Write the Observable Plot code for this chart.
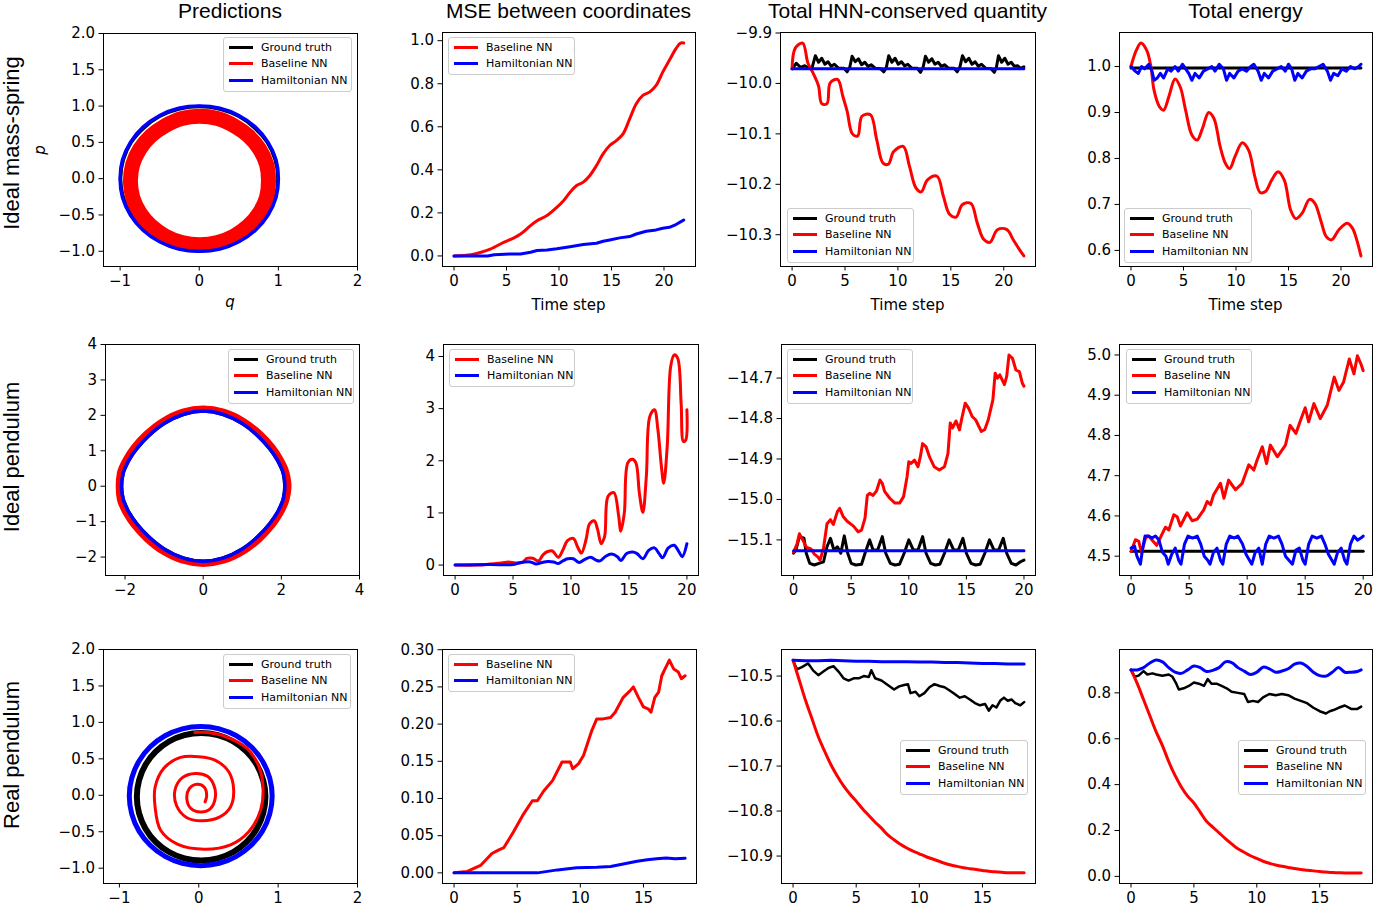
<!DOCTYPE html>
<html><head><meta charset="utf-8">
<script src="https://cdn.jsdelivr.net/npm/d3@7"></script>
<script src="https://cdn.jsdelivr.net/npm/@observablehq/plot@0.6"></script>
<style>
body{margin:0;background:#fff;}
#root{position:relative;width:1376px;height:910px;overflow:hidden;background:#fff;}
.abs{position:absolute;}
.abs svg{max-width:none !important;}
.title{position:absolute;font-family:"Liberation Sans",Arial,sans-serif;font-size:21px;color:#000;white-space:nowrap;transform:translateX(-50%);line-height:1;}
.rowlab{position:absolute;font-family:"Liberation Sans",Arial,sans-serif;font-size:22px;color:#000;white-space:nowrap;transform:translate(-50%,-50%) rotate(-90deg);line-height:1;}
.axlab{position:absolute;font-family:"DejaVu Sans",sans-serif;font-size:15px;color:#000;white-space:nowrap;transform:translate(-50%,-50%);line-height:1;}
.legend{position:absolute;box-sizing:border-box;border:1px solid #cccccc;border-radius:3px;background:rgba(255,255,255,0.85);padding:1px 0 2px 5px;font-family:"DejaVu Sans",sans-serif;font-size:11px;color:#000;}
.legend .row{display:flex;align-items:center;height:16.6px;white-space:nowrap;}
.legend .sw{display:inline-block;width:24px;height:3px;margin-right:8px;}
</style></head><body><div id="root"></div>
<script>
// ---------- tick labels ----------
const ticksQ1 = [-1, 0, 1, 2];
const ticksP1 = [-1.0, -0.5, 0.0, 0.5, 1.0, 1.5, 2.0];
const ticksQ2 = [-2, 0, 2, 4];
const ticksP2 = [-2, -1, 0, 1, 2, 3, 4];
const ticksT20 = [0, 5, 10, 15, 20];
const ticksT15 = [0, 5, 10, 15];
const ticksMseMs = [0.0, 0.2, 0.4, 0.6, 0.8, 1.0];
const ticksConsMs = [-10.3, -10.2, -10.1, -10.0, -9.9];
const ticksEnergyMs = [0.6, 0.7, 0.8, 0.9, 1.0];
const ticksMseIp = [0, 1, 2, 3, 4];
const ticksConsIp = [-15.1, -15.0, -14.9, -14.8, -14.7];
const ticksEnergyIp = [4.5, 4.6, 4.7, 4.8, 4.9, 5.0];
const ticksMseRp = [0.00, 0.05, 0.10, 0.15, 0.20, 0.25, 0.30];
const ticksConsRp = [-10.9, -10.8, -10.7, -10.6, -10.5];
const ticksEnergyRp = [0.0, 0.2, 0.4, 0.6, 0.8];

// ---------- categories ----------
const columnTitles = ["Predictions", "MSE between coordinates", "Total HNN-conserved quantity", "Total energy"];
const rowTitles = ["Ideal mass-spring", "Ideal pendulum", "Real pendulum"];
const seriesNames = ["Ground truth", "Baseline NN", "Hamiltonian NN"];

// ---------- Row 1: ideal mass-spring ----------
const msPhaseTruthQ = [0, 0.26, 0.5, 0.7, 0.86, 0.96, 0.995, 0.96, 0.86, 0.7, 0.5, 0.26, 0, -0.26, -0.5, -0.7, -0.86, -0.96, -0.995, -0.96, -0.86, -0.7, -0.5, -0.26];
const msPhaseTruthP = [0.995, 0.96, 0.86, 0.7, 0.5, 0.26, 0, -0.26, -0.5, -0.7, -0.86, -0.96, -0.995, -0.96, -0.86, -0.7, -0.5, -0.26, 0, 0.26, 0.5, 0.7, 0.86, 0.96];
const msPhaseBaseQ = [0, 0.23, 0.44, 0.62, 0.76, 0.85, 0.875, 0.85, 0.76, 0.62, 0.44, 0.23, 0.01, -0.22, -0.43, -0.61, -0.75, -0.84, -0.87, -0.84, -0.75, -0.61, -0.43, -0.22];
const msPhaseBaseP = [0.86, 0.83, 0.73, 0.59, 0.41, 0.2, -0.03, -0.26, -0.47, -0.65, -0.79, -0.88, -0.91, -0.88, -0.79, -0.65, -0.47, -0.26, -0.03, 0.2, 0.41, 0.59, 0.73, 0.83];
const msPhaseHnnQ = [0, 0.26, 0.5, 0.71, 0.87, 0.97, 1.0, 0.97, 0.87, 0.71, 0.5, 0.26, 0, -0.26, -0.5, -0.71, -0.87, -0.97, -1.0, -0.97, -0.87, -0.71, -0.5, -0.26];
const msPhaseHnnP = [1.0, 0.97, 0.87, 0.71, 0.5, 0.26, 0, -0.26, -0.5, -0.71, -0.87, -0.97, -1.0, -0.97, -0.87, -0.71, -0.5, -0.26, 0, 0.26, 0.5, 0.71, 0.87, 0.97];

const msMseBaseT = [0, 1.63, 2.58, 3.51, 4.78, 5.71, 6.34, 7.29, 7.91, 8.86, 9.79, 10.43, 11.06, 11.68, 12.31, 12.94, 13.57, 14.2, 14.83, 15.46, 16.1, 16.73, 17.36, 17.99, 18.62, 19.25, 19.88, 20.51, 21.14, 21.57, 21.88];
const msMseBaseV = [0, 0.006, 0.017, 0.033, 0.064, 0.084, 0.102, 0.141, 0.164, 0.188, 0.226, 0.257, 0.296, 0.327, 0.343, 0.374, 0.42, 0.474, 0.513, 0.536, 0.567, 0.637, 0.707, 0.746, 0.761, 0.792, 0.854, 0.909, 0.963, 0.989, 0.989];
const msMseHnnT = [0, 3.2, 3.83, 5.4, 6.34, 7.29, 7.91, 8.86, 9.79, 11.05, 12.31, 13.57, 14.2, 14.83, 15.78, 16.73, 17.36, 18.3, 19.25, 19.88, 20.51, 21.14, 21.78, 21.88];
const msMseHnnV = [0, 0, 0.006, 0.009, 0.009, 0.017, 0.025, 0.028, 0.033, 0.043, 0.053, 0.059, 0.068, 0.074, 0.084, 0.09, 0.102, 0.115, 0.121, 0.129, 0.133, 0.146, 0.164, 0.167];

const msConsTruthT = [0, 0.4, 0.8, 1.2, 1.6, 1.9,
  2.2, 2.5, 2.8, 3.1, 3.4, 3.7, 4.0, 4.4, 4.9, 5.2, 5.45,
  5.67, 5.97, 6.27, 6.57, 6.87, 7.17, 7.47, 7.87, 8.37, 8.67, 8.9,
  9.13, 9.43, 9.73, 10.03, 10.33, 10.63, 10.93, 11.33, 11.83, 12.13, 12.38,
  12.6, 12.9, 13.2, 13.5, 13.8, 14.1, 14.4, 14.8, 15.3, 15.6, 15.85,
  16.1, 16.4, 16.7, 17.0, 17.3, 17.6, 17.9, 18.3, 18.8, 19.1, 19.3,
  19.5, 19.8, 20.1, 20.4, 20.7, 21.0, 21.3, 21.6, 21.9];
const msConsTruthV = [-9.971, -9.960, -9.968, -9.965, -9.970, -9.968,
  -9.945, -9.958, -9.950, -9.962, -9.957, -9.966, -9.962, -9.970, -9.970, -9.977, -9.968,
  -9.946, -9.957, -9.951, -9.963, -9.958, -9.966, -9.963, -9.970, -9.971, -9.977, -9.969,
  -9.945, -9.958, -9.950, -9.962, -9.957, -9.965, -9.962, -9.970, -9.970, -9.978, -9.968,
  -9.946, -9.958, -9.951, -9.962, -9.958, -9.966, -9.963, -9.970, -9.970, -9.977, -9.968,
  -9.945, -9.957, -9.950, -9.962, -9.957, -9.966, -9.962, -9.970, -9.971, -9.978, -9.969,
  -9.945, -9.958, -9.950, -9.962, -9.958, -9.966, -9.965, -9.970, -9.967];
const msConsBaseT = [0, 0.3, 1.0, 1.5, 2.0, 2.5, 2.8, 3.3, 3.6, 4.3, 4.8, 5.2, 5.7, 6.2, 6.6, 7.4, 8.0, 8.6, 9.1, 9.6, 10.5, 11.1, 11.7, 12.2, 12.8, 13.7, 14.3, 14.9, 15.5, 16.1, 16.9, 17.5, 18.1, 18.7, 19.4, 20.3, 20.9, 21.5, 21.9];
const msConsBaseV = [-9.971, -9.93, -9.92, -9.96, -9.98, -10.005, -10.04, -10.04, -9.999, -9.992, -10.026, -10.055, -10.10, -10.104, -10.065, -10.062, -10.112, -10.158, -10.16, -10.135, -10.125, -10.165, -10.207, -10.215, -10.191, -10.184, -10.224, -10.26, -10.265, -10.24, -10.238, -10.277, -10.309, -10.315, -10.29, -10.29, -10.31, -10.33, -10.342];
const msConsHnnT = [0, 21.9];
const msConsHnnV = [-9.971, -9.971];

const msEnergyTruthT = [0, 21.9];
const msEnergyTruthV = [0.997, 0.997];
const msEnergyBaseT = [0, 0.5, 0.95, 1.5, 1.9, 2.2, 2.7, 3.1, 3.6, 4.2, 4.7, 5.2, 5.8, 6.3, 6.8, 7.4, 7.9, 8.5, 9.0, 9.4, 9.9, 10.6, 11.2, 11.8, 12.3, 12.8, 13.4, 14.0, 14.6, 15.2, 15.7, 16.3, 17.0, 17.5, 18.1, 18.6, 19.1, 19.8, 20.6, 21.1, 21.5, 21.9];
const msEnergyBaseV = [1.0, 1.035, 1.051, 1.035, 0.999, 0.948, 0.913, 0.905, 0.934, 0.973, 0.955, 0.905, 0.851, 0.84, 0.865, 0.90, 0.887, 0.825, 0.789, 0.778, 0.804, 0.834, 0.818, 0.76, 0.726, 0.728, 0.753, 0.771, 0.753, 0.688, 0.669, 0.681, 0.711, 0.703, 0.663, 0.630, 0.623, 0.645, 0.659, 0.648, 0.623, 0.588];
const msEnergyHnnT = [0, 0.4, 0.7, 1.0, 1.3, 1.7, 2.0, 2.2, 2.5, 2.8, 3.1, 3.5, 3.8, 4.2, 4.5, 4.9, 5.2, 5.5, 5.8, 6.1, 6.5, 6.9, 7.3, 7.7, 8.0, 8.4, 8.8, 9.1, 9.4, 9.8, 10.2, 10.6, 11.0, 11.4, 11.7, 12.1, 12.4, 12.7, 13.1, 13.5, 13.9, 14.3, 14.7, 15.0, 15.3, 15.6, 15.9, 16.3, 16.7, 17.1, 17.5, 17.9, 18.3, 18.7, 19.0, 19.3, 19.7, 20.1, 20.5, 20.9, 21.3, 21.7, 21.9];
const msEnergyHnnV = [1.0, 0.99, 0.985, 1.0, 0.995, 1.005, 0.99, 0.97, 0.975, 0.985, 0.975, 0.995, 0.99, 1.0, 0.99, 1.005, 0.995, 0.985, 0.97, 0.985, 0.975, 0.99, 0.995, 1.0, 0.99, 1.005, 0.995, 0.97, 0.985, 0.975, 0.99, 0.995, 0.99, 1.0, 1.005, 0.99, 0.97, 0.985, 0.975, 0.99, 0.995, 1.0, 0.99, 1.005, 0.995, 0.97, 0.985, 0.975, 0.99, 0.995, 0.995, 1.0, 1.005, 0.99, 0.97, 0.985, 0.98, 0.995, 0.99, 1.0, 0.995, 1.0, 1.005];

// ---------- Row 2: ideal pendulum ----------
const ipPhaseTruthQ = [0, 0.5, 1.0, 1.4, 1.7, 1.9, 2.0, 2.05, 2.09, 2.05, 2.0, 1.9, 1.7, 1.4, 1.0, 0.5, 0, -0.5, -1.0, -1.4, -1.7, -1.9, -2.0, -2.05, -2.09, -2.05, -2.0, -1.9, -1.7, -1.4, -1.0, -0.5];
const ipPhaseTruthP = [2.12, 2.03, 1.77, 1.42, 1.06, 0.74, 0.51, 0.36, 0, -0.36, -0.51, -0.74, -1.06, -1.42, -1.77, -2.03, -2.12, -2.03, -1.77, -1.42, -1.06, -0.74, -0.51, -0.36, 0, 0.36, 0.51, 0.74, 1.06, 1.42, 1.77, 2.03];
const ipPhaseBaseQ = [0, 0.52, 1.03, 1.45, 1.76, 1.96, 2.07, 2.12, 2.17, 2.12, 2.07, 1.96, 1.76, 1.45, 1.03, 0.52, 0, -0.52, -1.03, -1.45, -1.76, -1.96, -2.07, -2.12, -2.15, -2.12, -2.07, -1.96, -1.76, -1.45, -1.03, -0.52];
const ipPhaseBaseP = [2.18, 2.09, 1.83, 1.47, 1.1, 0.77, 0.53, 0.37, 0, -0.37, -0.53, -0.77, -1.1, -1.47, -1.83, -2.09, -2.18, -2.09, -1.83, -1.47, -1.1, -0.77, -0.53, -0.37, 0, 0.37, 0.53, 0.77, 1.1, 1.47, 1.83, 2.09];
const ipPhaseHnnQ = [0, 0.5, 1.0, 1.4, 1.7, 1.9, 2.0, 2.05, 2.09, 2.05, 2.0, 1.9, 1.7, 1.4, 1.0, 0.5, 0, -0.5, -1.0, -1.4, -1.7, -1.9, -2.0, -2.05, -2.09, -2.05, -2.0, -1.9, -1.7, -1.4, -1.0, -0.5];
const ipPhaseHnnP = [2.12, 2.03, 1.77, 1.42, 1.06, 0.74, 0.51, 0.36, 0, -0.36, -0.51, -0.74, -1.06, -1.42, -1.77, -2.03, -2.12, -2.03, -1.77, -1.42, -1.06, -0.74, -0.51, -0.36, 0, 0.36, 0.51, 0.74, 1.06, 1.42, 1.77, 2.03];

const ipMseBaseT = [0, 2, 3, 4, 4.6, 5.2, 5.8, 6.2, 6.7, 7.2, 7.6, 8.0, 8.4, 8.9, 9.3, 9.7, 10.2, 10.6, 10.9, 11.3, 11.6, 12.0, 12.3, 12.6, 12.9, 13.2, 13.7, 14.1, 14.3, 14.6, 14.9, 15.3, 15.6, 15.9, 16.2, 16.5, 16.8, 17.2, 17.5, 17.8, 18.0, 18.3, 18.6, 18.9, 19.2, 19.5, 19.7, 19.9, 20.0];
const ipMseBaseV = [0, 0, 0.02, 0.04, 0.06, 0.04, 0.05, 0.13, 0.13, 0.08, 0.2, 0.26, 0.27, 0.15, 0.29, 0.47, 0.51, 0.33, 0.23, 0.49, 0.79, 0.85, 0.68, 0.41, 0.55, 1.32, 1.39, 0.96, 0.65, 1.0, 1.96, 2.03, 1.96, 1.38, 1.01, 1.70, 2.85, 2.98, 2.59, 1.89, 1.57, 2.27, 3.81, 4.03, 3.97, 3.11, 2.37, 2.40, 2.98];
const ipMseHnnT = [0, 3, 5, 5.5, 6, 6.5, 7, 7.5, 8, 8.5, 8.9, 9.3, 9.7, 10.2, 10.7, 11.2, 11.7, 12.2, 12.5, 13.0, 13.5, 14.0, 14.3, 14.8, 15.3, 15.7, 16.2, 16.7, 17.2, 17.6, 17.9, 18.4, 18.9, 19.3, 19.6, 20.0];
const ipMseHnnV = [0, 0.01, 0.01, 0.04, 0.06, 0.06, 0.02, 0.05, 0.07, 0.06, 0.03, 0.08, 0.12, 0.12, 0.05, 0.11, 0.15, 0.09, 0.08, 0.17, 0.21, 0.16, 0.09, 0.22, 0.25, 0.22, 0.12, 0.28, 0.33, 0.22, 0.14, 0.33, 0.38, 0.26, 0.16, 0.41];

const ipConsTruthT = [0, 0.2, 0.5, 0.9, 1.1, 1.4, 1.8, 2.2, 2.6, 2.9, 3.2, 3.5, 3.8, 4.1, 4.4, 4.7, 5.0, 5.4, 5.9, 6.2, 6.6, 6.9, 7.3, 7.7, 8.0, 8.4, 8.8, 9.2, 9.6, 10.0, 10.4, 10.8, 11.2, 11.5, 11.9, 12.3, 12.7, 13.1, 13.5, 13.9, 14.3, 14.7, 15.0, 15.4, 15.8, 16.2, 16.6, 17.0, 17.4, 17.8, 18.2, 18.5, 18.9, 19.3, 19.7, 20.0];
const ipConsTruthV = [-15.133, -15.125, -15.092, -15.096, -15.133, -15.158, -15.162, -15.158, -15.154, -15.117, -15.096, -15.125, -15.117, -15.133, -15.09, -15.133, -15.158, -15.162, -15.16, -15.133, -15.1, -15.125, -15.125, -15.092, -15.133, -15.158, -15.162, -15.16, -15.133, -15.1, -15.125, -15.125, -15.092, -15.133, -15.158, -15.162, -15.16, -15.133, -15.1, -15.125, -15.125, -15.096, -15.133, -15.158, -15.162, -15.16, -15.133, -15.1, -15.125, -15.125, -15.096, -15.133, -15.158, -15.162, -15.154, -15.15];
const ipConsBaseT = [0, 0.3, 0.5, 0.8, 1.1, 1.5, 1.8, 2.1, 2.3, 2.6, 2.9, 3.2, 3.45, 3.8, 4.0, 4.3, 4.65, 5.2, 5.6, 5.9, 6.2, 6.4, 6.6, 6.9, 7.2, 7.5, 7.7, 7.9, 8.35, 8.8, 9.2, 9.55, 9.85, 10.0, 10.2, 10.5, 10.8, 11.0, 11.2, 11.5, 11.8, 12.2, 12.65, 13.1, 13.4, 13.6, 13.8, 14.1, 14.4, 14.6, 14.9, 15.2, 15.5, 15.8, 16.3, 16.6, 16.9, 17.3, 17.5, 17.7, 17.9, 18.3, 18.5, 18.7, 19.0, 19.3, 19.6, 19.85, 20.0];
const ipConsBaseV = [-15.13, -15.11, -15.085, -15.1, -15.118, -15.122, -15.135, -15.142, -15.15, -15.12, -15.06, -15.05, -15.062, -15.03, -15.022, -15.042, -15.054, -15.066, -15.08, -15.076, -15.046, -14.99, -14.985, -14.99, -14.979, -14.952, -14.96, -14.98, -14.997, -15.009, -15.009, -14.993, -14.944, -14.907, -14.911, -14.903, -14.919, -14.895, -14.862, -14.87, -14.895, -14.919, -14.927, -14.919, -14.887, -14.811, -14.823, -14.806, -14.828, -14.8, -14.762, -14.775, -14.795, -14.803, -14.832, -14.827, -14.803, -14.754, -14.688, -14.7, -14.692, -14.716, -14.696, -14.643, -14.651, -14.68, -14.684, -14.712, -14.72];
const ipConsHnnT = [0, 20];
const ipConsHnnV = [-15.127, -15.127];

const ipEnergyTruthT = [0, 20];
const ipEnergyTruthV = [4.512, 4.512];
const ipEnergyBaseT = [0, 0.37, 0.66, 0.9, 1.24, 1.52, 1.8, 2.2, 2.5, 2.96, 3.25, 3.68, 3.97, 4.25, 4.83, 5.26, 5.7, 6.26, 6.55, 6.85, 7.1, 7.7, 8.0, 8.4, 9.0, 9.57, 10.14, 10.57, 10.86, 11.3, 11.67, 12.0, 12.6, 13.3, 13.7, 14.2, 14.6, 15.0, 15.3, 15.75, 16.3, 16.9, 17.5, 17.9, 18.3, 18.8, 19.2, 19.5, 19.8, 20.0];
const ipEnergyBaseV = [4.512, 4.541, 4.537, 4.508, 4.545, 4.55, 4.54, 4.527, 4.545, 4.572, 4.565, 4.603, 4.598, 4.575, 4.608, 4.588, 4.592, 4.615, 4.636, 4.628, 4.652, 4.681, 4.644, 4.689, 4.665, 4.681, 4.727, 4.714, 4.739, 4.772, 4.73, 4.776, 4.747, 4.776, 4.825, 4.805, 4.838, 4.869, 4.834, 4.879, 4.842, 4.875, 4.945, 4.912, 4.932, 4.99, 4.953, 4.998, 4.978, 4.961];
const ipEnergyHnnT = [0, 0.3, 0.5, 0.8, 1.0, 1.2, 1.5, 1.8, 2.1, 2.4, 2.7, 3.0, 3.2, 3.5, 3.8, 4.1, 4.3, 4.6, 4.9, 5.3, 5.7, 6.0, 6.3, 6.6, 6.8, 7.1, 7.4, 7.7, 7.9, 8.2, 8.5, 8.9, 9.2, 9.6, 9.9, 10.2, 10.4, 10.7, 11.0, 11.3, 11.6, 11.9, 12.3, 12.7, 13.0, 13.3, 13.6, 13.9, 14.2, 14.5, 14.8, 15.0, 15.3, 15.6, 16.0, 16.4, 16.7, 17.0, 17.3, 17.5, 17.8, 18.1, 18.4, 18.6, 18.9, 19.2, 19.5, 19.8, 20.0];
const ipEnergyHnnV = [4.52, 4.525, 4.50, 4.48, 4.52, 4.55, 4.55, 4.545, 4.55, 4.54, 4.51, 4.50, 4.48, 4.505, 4.52, 4.49, 4.48, 4.53, 4.55, 4.545, 4.55, 4.53, 4.50, 4.49, 4.48, 4.51, 4.52, 4.49, 4.48, 4.53, 4.55, 4.545, 4.55, 4.53, 4.505, 4.49, 4.48, 4.51, 4.52, 4.48, 4.53, 4.55, 4.545, 4.55, 4.53, 4.50, 4.49, 4.48, 4.515, 4.52, 4.49, 4.48, 4.53, 4.55, 4.545, 4.55, 4.53, 4.505, 4.49, 4.48, 4.51, 4.52, 4.49, 4.48, 4.53, 4.55, 4.54, 4.545, 4.55];

// ---------- Row 3: real pendulum ----------
const rpPhaseTruthQ = [0.03, 0.24, 0.435, 0.603, 0.731, 0.812, 0.84, 0.812, 0.731, 0.603, 0.435, 0.24, 0.03, -0.18, -0.375, -0.543, -0.671, -0.752, -0.78, -0.752, -0.671, -0.543, -0.375, -0.18];
const rpPhaseTruthP = [0.855, 0.825, 0.738, 0.599, 0.418, 0.206, -0.02, -0.246, -0.458, -0.639, -0.778, -0.865, -0.895, -0.865, -0.778, -0.639, -0.458, -0.246, -0.02, 0.206, 0.418, 0.599, 0.738, 0.825];
const rpPhaseBaseQ = [-0.05, 0.11, 0.35, 0.61, 0.76, 0.81, 0.78, 0.63, 0.40, 0.07, -0.27, -0.48, -0.55, -0.55, -0.44, -0.23, 0.0, 0.21, 0.38, 0.44, 0.40, 0.26, 0.03, -0.16, -0.28, -0.30, -0.21, -0.04, 0.11, 0.19, 0.21, 0.15, 0.03, -0.10, -0.15, -0.12, -0.02, 0.07, 0.10, 0.08];
const rpPhaseBaseP = [0.86, 0.86, 0.8, 0.64, 0.39, 0.1, -0.2, -0.5, -0.68, -0.74, -0.67, -0.48, -0.16, 0.11, 0.37, 0.52, 0.53, 0.48, 0.32, 0.07, -0.16, -0.30, -0.35, -0.30, -0.14, 0.07, 0.24, 0.30, 0.26, 0.14, -0.02, -0.18, -0.23, -0.18, -0.05, 0.09, 0.15, 0.11, 0.0, -0.09];
const rpPhaseHnnQ = [0.025, 0.258, 0.475, 0.661, 0.804, 0.894, 0.925, 0.894, 0.804, 0.661, 0.475, 0.258, 0.025, -0.208, -0.425, -0.611, -0.754, -0.844, -0.875, -0.844, -0.754, -0.611, -0.425, -0.208];
const rpPhaseHnnP = [0.945, 0.912, 0.817, 0.665, 0.468, 0.237, -0.01, -0.257, -0.488, -0.685, -0.837, -0.932, -0.965, -0.932, -0.837, -0.685, -0.488, -0.257, -0.01, 0.237, 0.468, 0.665, 0.817, 0.912];

const rpMseBaseT = [0, 1.05, 2.1, 3.0, 3.55, 3.95, 4.7, 5.5, 6.2, 6.6, 7.1, 7.8, 8.55, 9.2, 9.4, 9.87, 10.26, 10.9, 11.3, 11.8, 12.4, 12.76, 13.4, 13.95, 14.2, 14.6, 15.0, 15.4, 15.6, 15.9, 16.2, 16.45, 16.7, 17.05, 17.4, 17.76, 18.0, 18.3];
const rpMseBaseV = [0, 0.002, 0.01, 0.026, 0.031, 0.034, 0.055, 0.079, 0.097, 0.097, 0.11, 0.124, 0.149, 0.149, 0.14, 0.147, 0.158, 0.191, 0.207, 0.207, 0.209, 0.216, 0.236, 0.245, 0.25, 0.236, 0.223, 0.22, 0.216, 0.236, 0.243, 0.265, 0.274, 0.286, 0.274, 0.27, 0.261, 0.265];
const rpMseHnnT = [0, 6.6, 8.2, 9.7, 11.3, 12.4, 13.4, 14.5, 15.3, 16.05, 16.8, 17.5, 18.3];
const rpMseHnnV = [0, 0, 0.004, 0.007, 0.0076, 0.0085, 0.012, 0.0157, 0.0175, 0.019, 0.02, 0.019, 0.0197];

const rpConsTruthT = [0, 0.3, 0.7, 1.2, 1.6, 2.0, 2.4, 2.8, 3.2, 3.6, 4.0, 4.4, 4.8, 5.2, 5.6, 6.0, 6.2, 6.5, 7.0, 7.5, 8.0, 8.4, 8.8, 9.1, 9.3, 9.7, 10.0, 10.4, 10.8, 11.2, 11.6, 12.0, 12.4, 12.8, 13.2, 13.6, 14.0, 14.4, 14.8, 15.2, 15.5, 15.8, 16.1, 16.4, 16.7, 17.0, 17.3, 17.6, 18.0, 18.3];
const rpConsTruthV = [-10.465, -10.485, -10.48, -10.472, -10.488, -10.498, -10.49, -10.482, -10.478, -10.49, -10.505, -10.51, -10.505, -10.505, -10.5, -10.502, -10.487, -10.505, -10.51, -10.52, -10.53, -10.523, -10.52, -10.518, -10.538, -10.535, -10.545, -10.538, -10.525, -10.518, -10.522, -10.525, -10.532, -10.54, -10.548, -10.545, -10.552, -10.56, -10.565, -10.562, -10.577, -10.565, -10.57, -10.555, -10.548, -10.555, -10.552, -10.56, -10.565, -10.558];
const rpConsBaseT = [0, 0.5, 1, 1.5, 2, 2.5, 3, 3.5, 4, 4.5, 5, 5.5, 6, 6.5, 7, 7.5, 8, 8.5, 9, 9.5, 10, 10.5, 11, 11.5, 12, 12.5, 13, 13.5, 14, 14.5, 15, 15.5, 16, 16.5, 17, 17.5, 18.3];
const rpConsBaseV = [-10.465, -10.51, -10.555, -10.595, -10.635, -10.667, -10.697, -10.722, -10.744, -10.762, -10.778, -10.795, -10.81, -10.825, -10.838, -10.853, -10.864, -10.874, -10.882, -10.889, -10.895, -10.901, -10.906, -10.911, -10.916, -10.92, -10.923, -10.926, -10.928, -10.93, -10.932, -10.934, -10.935, -10.936, -10.937, -10.937, -10.937];
const rpConsHnnT = [0, 1, 2, 3, 4, 5, 6, 7, 8, 9, 10, 11, 12, 13, 14, 15, 16, 17, 18.3];
const rpConsHnnV = [-10.465, -10.466, -10.466, -10.465, -10.466, -10.467, -10.467, -10.468, -10.468, -10.468, -10.469, -10.469, -10.47, -10.47, -10.471, -10.472, -10.472, -10.473, -10.473];

const rpEnergyTruthT = [0, 0.3, 0.6, 1, 1.3, 1.7, 2, 2.5, 3, 3.3, 3.6, 3.8, 4.2, 4.6, 5, 5.4, 5.8, 6.1, 6.4, 6.8, 7.2, 7.6, 8, 8.5, 9, 9.3, 9.7, 10.1, 10.5, 11, 11.5, 12, 12.5, 13, 13.5, 14, 14.5, 15, 15.5, 15.8, 16.1, 16.5, 17, 17.5, 18, 18.3];
const rpEnergyTruthV = [0.9, 0.87, 0.875, 0.895, 0.88, 0.885, 0.88, 0.875, 0.88, 0.87, 0.84, 0.815, 0.82, 0.83, 0.845, 0.84, 0.83, 0.86, 0.84, 0.84, 0.83, 0.82, 0.805, 0.8, 0.795, 0.76, 0.765, 0.76, 0.78, 0.795, 0.79, 0.795, 0.79, 0.775, 0.765, 0.755, 0.735, 0.72, 0.71, 0.72, 0.725, 0.735, 0.745, 0.73, 0.73, 0.74];
const rpEnergyBaseT = [0, 0.5, 1, 1.5, 2, 2.5, 3, 3.5, 4, 4.5, 5, 5.5, 6, 6.5, 7, 7.5, 8, 8.5, 9, 9.5, 10, 10.5, 11, 11.5, 12, 12.5, 13, 13.5, 14, 14.5, 15, 15.5, 16, 16.5, 17, 18.3];
const rpEnergyBaseV = [0.9, 0.84, 0.77, 0.7, 0.63, 0.57, 0.5, 0.44, 0.39, 0.35, 0.32, 0.28, 0.24, 0.215, 0.19, 0.165, 0.142, 0.12, 0.105, 0.09, 0.078, 0.066, 0.057, 0.05, 0.044, 0.039, 0.034, 0.03, 0.027, 0.024, 0.021, 0.019, 0.017, 0.016, 0.015, 0.015];
const rpEnergyHnnT = [0, 0.5, 1, 1.5, 2, 2.5, 3, 3.5, 4, 4.5, 5, 5.5, 6, 6.5, 7, 7.5, 8, 8.5, 9, 9.5, 10, 10.5, 11, 11.5, 12, 12.5, 13, 13.5, 14, 14.5, 15, 15.5, 16, 16.5, 17, 17.5, 18, 18.3];
const rpEnergyHnnV = [0.90, 0.90, 0.91, 0.93, 0.943, 0.935, 0.91, 0.89, 0.885, 0.90, 0.917, 0.91, 0.893, 0.898, 0.91, 0.935, 0.932, 0.91, 0.895, 0.88, 0.89, 0.912, 0.905, 0.89, 0.895, 0.905, 0.925, 0.93, 0.915, 0.89, 0.875, 0.873, 0.89, 0.91, 0.89, 0.89, 0.893, 0.9];

// ---------- styles ----------
const C = {truth: "#000000", base: "#ff0000", hnn: "#0000ff"};
const root = document.getElementById("root");
const M = {l: 92, r: 14, t: 10, b: 60};

function S(x, y, color, width, curve) { return {x, y, color, width, curve: curve || "linear"}; }

function makePanel(p) {
  const [l, t, r, b] = p.frame;
  const W = r - l + M.l + M.r, H = b - t + M.t + M.b;
  const marks = p.series.map(s => Plot.line(s.y, {
    x: s.x, y: s.y, stroke: s.color, strokeWidth: s.width, curve: s.curve,
    strokeLinejoin: "round", strokeLinecap: "round"
  }));
  marks.push(Plot.frame({stroke: "black", strokeWidth: 1}));
  marks.push(Plot.axisX({ticks: p.xTicks, tickFormat: d3.format(p.xFmt), tickSize: 4.5, tickPadding: 4, label: null}));
  marks.push(Plot.axisY({ticks: p.yTicks, tickFormat: d3.format(p.yFmt), tickSize: 4.5, tickPadding: 4, label: null}));
  const svg = Plot.plot({
    width: W, height: H,
    marginLeft: M.l, marginRight: M.r, marginTop: M.t, marginBottom: M.b,
    x: {domain: p.xDomain}, y: {domain: p.yDomain},
    style: {background: "transparent", overflow: "visible", fontFamily: "DejaVu Sans, sans-serif", fontSize: "15px", color: "black", maxWidth: "none"},
    marks
  });
  svg.setAttribute("width", W); svg.setAttribute("height", H);
  svg.style.width = W + "px"; svg.style.height = H + "px"; svg.style.maxWidth = "none";
  const wrap = document.createElement("div");
  wrap.className = "abs";
  wrap.style.left = (l - M.l) + "px";
  wrap.style.top = (t - M.t) + "px";
  wrap.style.width = W + "px";
  wrap.style.height = H + "px";
  wrap.appendChild(svg);
  root.appendChild(wrap);
}

function makeLegend(x, y, w, entries) {
  const d = document.createElement("div");
  d.className = "legend";
  d.style.left = x + "px"; d.style.top = y + "px"; d.style.width = w + "px";
  for (const [name, color] of entries) {
    const row = document.createElement("div"); row.className = "row";
    const sw = document.createElement("span"); sw.className = "sw"; sw.style.background = color;
    const tx = document.createElement("span"); tx.textContent = name;
    row.appendChild(sw); row.appendChild(tx); d.appendChild(row);
  }
  root.appendChild(d);
}

function addText(cls, text, x, y) {
  const d = document.createElement("div");
  d.className = cls; d.textContent = text;
  d.style.left = x + "px"; d.style.top = y + "px";
  root.appendChild(d);
  return d;
}

const closed = "catmull-rom-closed", smooth = "catmull-rom";

const panels = [
  // Row 1
  {frame: [103, 33, 357, 266], xDomain: [-1.21, 2], yDomain: [-1.21, 2], xTicks: ticksQ1, yTicks: ticksP1, xFmt: "d", yFmt: ".1f",
   series: [S(msPhaseTruthQ, msPhaseTruthP, C.truth, 3.5, closed), S(msPhaseBaseQ, msPhaseBaseP, C.base, 15, closed), S(msPhaseHnnQ, msPhaseHnnP, C.hnn, 3.5, closed)]},
  {frame: [442, 32, 695, 266], xDomain: [-1.095, 23.0], yDomain: [-0.049, 1.038], xTicks: ticksT20, yTicks: ticksMseMs, xFmt: "d", yFmt: ".1f",
   series: [S(msMseBaseT, msMseBaseV, C.base, 3, smooth), S(msMseHnnT, msMseHnnV, C.hnn, 3)]},
  {frame: [780, 32, 1035, 266], xDomain: [-1.095, 23.0], yDomain: [-10.363, -9.899], xTicks: ticksT20, yTicks: ticksConsMs, xFmt: "d", yFmt: ".1f",
   series: [S(msConsTruthT, msConsTruthV, C.truth, 3), S(msConsBaseT, msConsBaseV, C.base, 3, smooth), S(msConsHnnT, msConsHnnV, C.hnn, 3)]},
  {frame: [1119, 32, 1372, 266], xDomain: [-1.095, 23.0], yDomain: [0.565, 1.074], xTicks: ticksT20, yTicks: ticksEnergyMs, xFmt: "d", yFmt: ".1f",
   series: [S(msEnergyTruthT, msEnergyTruthV, C.truth, 3), S(msEnergyBaseT, msEnergyBaseV, C.base, 3, smooth), S(msEnergyHnnT, msEnergyHnnV, C.hnn, 3)]},
  // Row 2
  {frame: [105, 344, 359, 575], xDomain: [-2.5, 4], yDomain: [-2.52, 4], xTicks: ticksQ2, yTicks: ticksP2, xFmt: "d", yFmt: "d",
   series: [S(ipPhaseTruthQ, ipPhaseTruthP, C.truth, 3.5, closed), S(ipPhaseBaseQ, ipPhaseBaseP, C.base, 7, closed), S(ipPhaseHnnQ, ipPhaseHnnP, C.hnn, 3.5, closed)]},
  {frame: [443, 344, 698, 575], xDomain: [-1, 21], yDomain: [-0.2, 4.23], xTicks: ticksT20, yTicks: ticksMseIp, xFmt: "d", yFmt: "d",
   series: [S(ipMseBaseT, ipMseBaseV, C.base, 3, smooth), S(ipMseHnnT, ipMseHnnV, C.hnn, 3, smooth)]},
  {frame: [781, 344, 1035, 575], xDomain: [-1.05, 21], yDomain: [-15.188, -14.617], xTicks: ticksT20, yTicks: ticksConsIp, xFmt: "d", yFmt: ".1f",
   series: [S(ipConsTruthT, ipConsTruthV, C.truth, 3), S(ipConsBaseT, ipConsBaseV, C.base, 3), S(ipConsHnnT, ipConsHnnV, C.hnn, 3)]},
  {frame: [1119, 344, 1372, 575], xDomain: [-1, 20.8], yDomain: [4.452, 5.026], xTicks: ticksT20, yTicks: ticksEnergyIp, xFmt: "d", yFmt: ".1f",
   series: [S(ipEnergyTruthT, ipEnergyTruthV, C.truth, 3), S(ipEnergyBaseT, ipEnergyBaseV, C.base, 3), S(ipEnergyHnnT, ipEnergyHnnV, C.hnn, 3)]},
  // Row 3
  {frame: [103, 649, 357, 883], xDomain: [-1.2, 2], yDomain: [-1.21, 2], xTicks: ticksQ1, yTicks: ticksP1, xFmt: "d", yFmt: ".1f",
   series: [S(rpPhaseTruthQ, rpPhaseTruthP, C.truth, 6, closed), S(rpPhaseBaseQ, rpPhaseBaseP, C.base, 3, smooth), S(rpPhaseHnnQ, rpPhaseHnnP, C.hnn, 5, closed)]},
  {frame: [442, 649, 696, 883], xDomain: [-0.915, 19.2], yDomain: [-0.0143, 0.3003], xTicks: ticksT15, yTicks: ticksMseRp, xFmt: "d", yFmt: ".2f",
   series: [S(rpMseBaseT, rpMseBaseV, C.base, 3), S(rpMseHnnT, rpMseHnnV, C.hnn, 3)]},
  {frame: [781, 649, 1035, 883], xDomain: [-0.915, 19.2], yDomain: [-10.961, -10.441], xTicks: ticksT15, yTicks: ticksConsRp, xFmt: "d", yFmt: ".1f",
   series: [S(rpConsTruthT, rpConsTruthV, C.truth, 2.5), S(rpConsBaseT, rpConsBaseV, C.base, 3, smooth), S(rpConsHnnT, rpConsHnnV, C.hnn, 3)]},
  {frame: [1119, 649, 1372, 883], xDomain: [-0.915, 19.2], yDomain: [-0.031, 0.989], xTicks: ticksT15, yTicks: ticksEnergyRp, xFmt: "d", yFmt: ".1f",
   series: [S(rpEnergyTruthT, rpEnergyTruthV, C.truth, 2.5), S(rpEnergyBaseT, rpEnergyBaseV, C.base, 3, smooth), S(rpEnergyHnnT, rpEnergyHnnV, C.hnn, 3, smooth)]}
];
panels.forEach(makePanel);

// titles
const colCenters = [230, 568.5, 907.5, 1245.5];
columnTitles.forEach((t, i) => addText("title", t, colCenters[i], 0));
const rowCenters = [143, 457, 755];
rowTitles.forEach((t, i) => addText("rowlab", t, 12, rowCenters[i]));

// axis labels
addText("axlab", "Time step", 568.5, 305);
addText("axlab", "Time step", 907.5, 305);
addText("axlab", "Time step", 1245.5, 305);
const ql = addText("axlab", "q", 230, 302); ql.style.fontStyle = "italic";
const pl = addText("axlab", "p", 40, 150); pl.style.fontStyle = "italic"; pl.style.transform = "translate(-50%,-50%) rotate(-90deg)";

// legends
const L3 = [[seriesNames[0], C.truth], [seriesNames[1], C.base], [seriesNames[2], C.hnn]];
const L2 = [[seriesNames[1], C.base], [seriesNames[2], C.hnn]];
makeLegend(223, 37, 129, L3);
makeLegend(448, 37, 127, L2);
makeLegend(787, 208, 127, L3);
makeLegend(1124, 208, 128, L3);
makeLegend(228, 349, 126, L3);
makeLegend(449, 349, 126, L2);
makeLegend(787, 349, 126, L3);
makeLegend(1126, 349, 126, L3);
makeLegend(223, 654, 128, L3);
makeLegend(448, 654, 127, L2);
makeLegend(900, 740, 128, L3);
makeLegend(1238, 740, 128, L3);
</script></body></html>
